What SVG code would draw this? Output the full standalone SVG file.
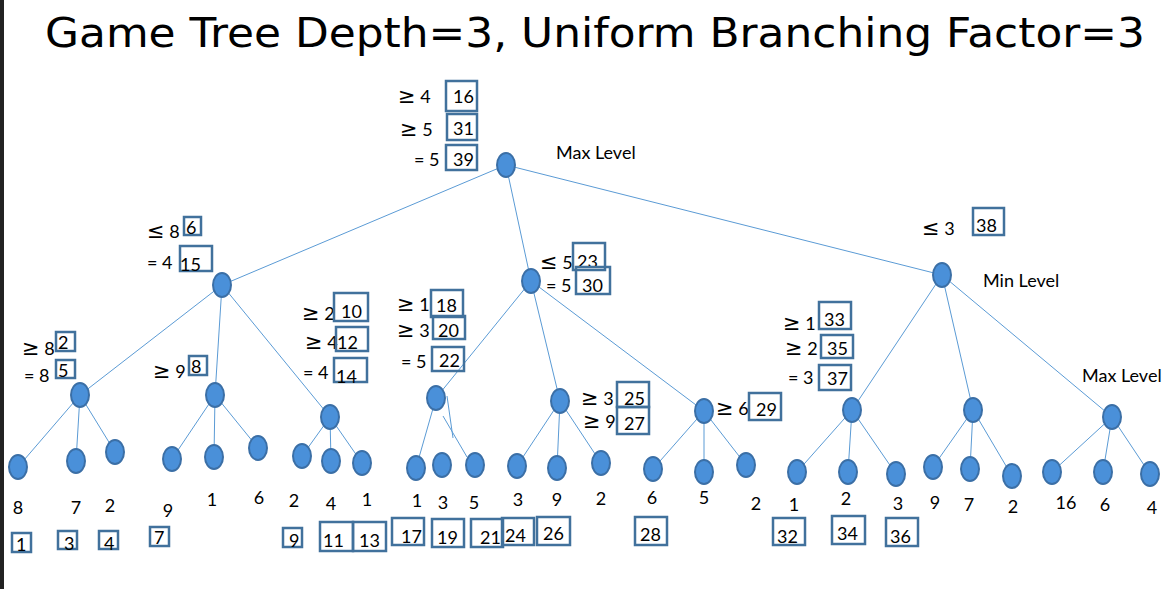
<svg xmlns="http://www.w3.org/2000/svg" width="1173" height="589" viewBox="0 0 1173 589">
<style>
.n{fill:#4a90d9;stroke:#3b6fa6;stroke-width:2}
.e{stroke:#5b9bd5;stroke-width:1;fill:none}
.b{fill:none;stroke:#41719c;stroke-width:2.5}
text{font-family:Lato,"Liberation Sans",sans-serif;font-size:18px;fill:#000}
.t{font-family:"DejaVu Sans","Liberation Sans",sans-serif;font-size:40px}
.s{font-family:"DejaVu Sans",sans-serif;font-size:21px}
</style>
<rect width="1173" height="589" fill="#fff"/>
<rect x="0" y="0" width="4" height="589" fill="#222"/>
<text class="t" x="45" y="47" textLength="1100" lengthAdjust="spacingAndGlyphs">Game Tree Depth=3, Uniform Branching Factor=3</text>
<g id="connectors" class="e">
<path d="M506 165L222 285M506 165L531 281M506 165L942 275"/>
<path d="M222 285L80 395M222 285L215 395M222 285L330 417"/>
<path d="M531 281L436 398M531 281L560 401M531 281L704 411"/>
<path d="M942 275L852 410M942 275L973 410M942 275L1112 417"/>
<path d="M80 395L18 467M80 395L76 461M80 395L115 452"/>
<path d="M215 395L172 459M215 395L214 457M215 395L258 448"/>
<path d="M330 417L302 456M330 417L331 461M330 417L362 463"/>
<path d="M436 398L416 468M447 396L453 438M443 416L467 457"/>
<path d="M560 401L517 466M560 401L557 468M560 401L601 463"/>
<path d="M704 411L653 469M704 411L704 472M704 411L746 465"/>
<path d="M852 410L797 472M852 410L848 472M852 410L896 474"/>
<path d="M973 410L933 467M973 410L970 469M973 410L1012 476"/>
<path d="M1112 417L1052 472M1112 417L1103 472M1112 417L1150 474"/>
</g>
<g id="root"><ellipse class="n" cx="506" cy="165" rx="9" ry="12"/></g>
<g id="min1"><ellipse class="n" cx="222" cy="285" rx="9" ry="12"/></g>
<g id="min2"><ellipse class="n" cx="531" cy="281" rx="9" ry="12"/></g>
<g id="min3"><ellipse class="n" cx="942" cy="275" rx="9" ry="12"/></g>
<g id="max-nodes">
<ellipse class="n" cx="80" cy="395" rx="9" ry="12"/><ellipse class="n" cx="215" cy="395" rx="9" ry="12"/><ellipse class="n" cx="330" cy="417" rx="9" ry="12"/>
<ellipse class="n" cx="436" cy="398" rx="9" ry="12"/><ellipse class="n" cx="560" cy="401" rx="9" ry="12"/><ellipse class="n" cx="704" cy="411" rx="9" ry="12"/>
<ellipse class="n" cx="852" cy="410" rx="9" ry="12"/><ellipse class="n" cx="973" cy="410" rx="9" ry="12"/><ellipse class="n" cx="1112" cy="417" rx="9" ry="12"/>
</g>
<g id="leaves">
<ellipse class="n" cx="18" cy="467" rx="9" ry="12"/><ellipse class="n" cx="76" cy="461" rx="9" ry="12"/><ellipse class="n" cx="115" cy="452" rx="9" ry="12"/>
<ellipse class="n" cx="172" cy="459" rx="9" ry="12"/><ellipse class="n" cx="214" cy="457" rx="9" ry="12"/><ellipse class="n" cx="258" cy="448" rx="9" ry="12"/>
<ellipse class="n" cx="302" cy="456" rx="9" ry="12"/><ellipse class="n" cx="331" cy="461" rx="9" ry="12"/><ellipse class="n" cx="362" cy="463" rx="9" ry="12"/>
<ellipse class="n" cx="416" cy="468" rx="9" ry="12"/><ellipse class="n" cx="442" cy="465" rx="9" ry="12"/><ellipse class="n" cx="475" cy="465" rx="9" ry="12"/>
<ellipse class="n" cx="517" cy="466" rx="9" ry="12"/><ellipse class="n" cx="557" cy="468" rx="9" ry="12"/><ellipse class="n" cx="601" cy="463" rx="9" ry="12"/>
<ellipse class="n" cx="653" cy="469" rx="9" ry="12"/><ellipse class="n" cx="704" cy="472" rx="9" ry="12"/><ellipse class="n" cx="746" cy="465" rx="9" ry="12"/>
<ellipse class="n" cx="797" cy="472" rx="9" ry="12"/><ellipse class="n" cx="848" cy="472" rx="9" ry="12"/><ellipse class="n" cx="896" cy="474" rx="9" ry="12"/>
<ellipse class="n" cx="933" cy="467" rx="9" ry="12"/><ellipse class="n" cx="970" cy="469" rx="9" ry="12"/><ellipse class="n" cx="1012" cy="476" rx="9" ry="12"/>
<ellipse class="n" cx="1052" cy="472" rx="9" ry="12"/><ellipse class="n" cx="1103" cy="472" rx="9" ry="12"/><ellipse class="n" cx="1150" cy="474" rx="9" ry="12"/>
</g>
<g id="leaf-values" text-anchor="middle">
<text x="18" y="514">8</text><text x="76" y="514">7</text><text x="110" y="512">2</text>
<text x="168" y="517">9</text><text x="212" y="506">1</text><text x="259" y="504">6</text>
<text x="294" y="507">2</text><text x="331" y="510">4</text><text x="367" y="506">1</text>
<text x="417" y="507">1</text><text x="443" y="509">3</text><text x="474" y="509">5</text>
<text x="518" y="506">3</text><text x="557" y="506">9</text><text x="601" y="505">2</text>
<text x="652" y="504">6</text><text x="704" y="504">5</text><text x="756" y="510">2</text>
<text x="794" y="511">1</text><text x="846" y="505">2</text><text x="898" y="510">3</text>
<text x="935" y="509">9</text><text x="969" y="511">7</text><text x="1013" y="513">2</text>
<text x="1066" y="509">16</text><text x="1105" y="511">6</text><text x="1152" y="514">4</text>
</g>
<g id="order-boxes">
<rect class="b" x="12" y="533" width="19" height="19"/><text x="16" y="551">1</text>
<rect class="b" x="58" y="531" width="19" height="18"/><text x="64" y="550">3</text>
<rect class="b" x="99" y="531" width="19" height="18"/><text x="104" y="550">4</text>
<rect class="b" x="150" y="527" width="19" height="19"/><text x="154" y="544">7</text>
<rect class="b" x="283" y="528" width="19" height="19"/><text x="289" y="547">9</text>
<rect class="b" x="320" y="522" width="33" height="29"/><text x="323" y="547">11</text>
<rect class="b" x="353" y="522" width="33" height="29"/><text x="359" y="547">13</text>
<rect class="b" x="392" y="518" width="32" height="27"/><text x="401" y="543">17</text>
<rect class="b" x="432" y="519" width="32" height="28"/><text x="437" y="544">19</text>
<rect class="b" x="471" y="519" width="32" height="28"/><text x="480" y="544">21</text>
<rect class="b" x="502" y="518" width="32" height="27"/><text x="505" y="542">24</text>
<rect class="b" x="537" y="517" width="33" height="28"/><text x="543" y="540">26</text>
<rect class="b" x="635" y="517" width="32" height="28"/><text x="640" y="541">28</text>
<rect class="b" x="773" y="518" width="32" height="27"/><text x="777" y="543">32</text>
<rect class="b" x="832" y="516" width="33" height="28"/><text x="837" y="540">34</text>
<rect class="b" x="886" y="518" width="32" height="28"/><text x="890" y="543">36</text>
</g>
<g id="root-labels">
<text x="398" y="103"><tspan class="s">≥</tspan> 4</text><rect class="b" x="446" y="81" width="31" height="30"/><text x="453" y="103">16</text>
<text x="400" y="136"><tspan class="s">≥</tspan> 5</text><rect class="b" x="447" y="114" width="30" height="26"/><text x="453" y="135">31</text>
<text x="414" y="166">= 5</text><rect class="b" x="446" y="145" width="31" height="25"/><text x="453" y="166">39</text>
<text x="556" y="159">Max Level</text>
</g>
<g id="min-labels">
<text x="147" y="238"><tspan class="s">≤</tspan> 8</text><rect class="b" x="184" y="217" width="17" height="18"/><text x="186" y="234">6</text>
<text x="147" y="269">= 4</text><rect class="b" x="180" y="246" width="32" height="25"/><text x="180" y="271">15</text>
<text x="540" y="269"><tspan class="s">≤</tspan> 5</text><rect class="b" x="573" y="243" width="32" height="27"/><text x="577" y="268">23</text>
<text x="546" y="292">= 5</text><rect class="b" x="576" y="267" width="34" height="27"/><text x="582" y="292">30</text>
<text x="922" y="235"><tspan class="s">≤</tspan> 3</text><rect class="b" x="973" y="208" width="31" height="27"/><text x="976" y="232">38</text>
<text x="983" y="287">Min Level</text>
<text x="1082" y="382">Max Level</text>
</g>
<g id="max-labels">
<text x="22" y="355"><tspan class="s">≥</tspan> 8</text><rect class="b" x="56" y="332" width="19" height="19"/><text x="58" y="349">2</text>
<text x="24" y="382">= 8</text><rect class="b" x="56" y="360" width="19" height="18"/><text x="58" y="377">5</text>
<text x="153" y="378"><tspan class="s">≥</tspan> 9</text><rect class="b" x="189" y="356" width="18" height="19"/><text x="191" y="373">8</text>
<text x="302" y="320"><tspan class="s">≥</tspan> 2</text><rect class="b" x="334" y="293" width="34" height="28"/><text x="341" y="318">10</text>
<text x="305" y="349"><tspan class="s">≥</tspan> 4</text><rect class="b" x="336" y="327" width="32" height="24"/><text x="337" y="349">12</text>
<text x="303" y="379">= 4</text><rect class="b" x="334" y="358" width="33" height="24"/><text x="336" y="383">14</text>
<text x="397" y="311"><tspan class="s">≥</tspan> 1</text><rect class="b" x="431" y="290" width="32" height="27"/><text x="436" y="312">18</text>
<text x="397" y="337"><tspan class="s">≥</tspan> 3</text><rect class="b" x="433" y="316" width="32" height="23"/><text x="438" y="337">20</text>
<text x="401" y="368">= 5</text><rect class="b" x="432" y="347" width="32" height="24"/><text x="439" y="367">22</text>
<text x="581" y="405"><tspan class="s">≥</tspan> 3</text><rect class="b" x="617" y="382" width="32" height="25"/><text x="624" y="405">25</text>
<text x="583" y="428"><tspan class="s">≥</tspan> 9</text><rect class="b" x="617" y="407" width="32" height="27"/><text x="624" y="430">27</text>
<text x="716" y="415"><tspan class="s">≥</tspan> 6</text><rect class="b" x="749" y="393" width="32" height="27"/><text x="756" y="416">29</text>
<text x="783" y="330"><tspan class="s">≥</tspan> 1</text><rect class="b" x="819" y="302" width="32" height="27"/><text x="824" y="326">33</text>
<text x="785" y="355"><tspan class="s">≥</tspan> 2</text><rect class="b" x="821" y="335" width="32" height="23"/><text x="827" y="355">35</text>
<text x="788" y="384">= 3</text><rect class="b" x="819" y="365" width="32" height="25"/><text x="827" y="385">37</text>
</g>
</svg>
